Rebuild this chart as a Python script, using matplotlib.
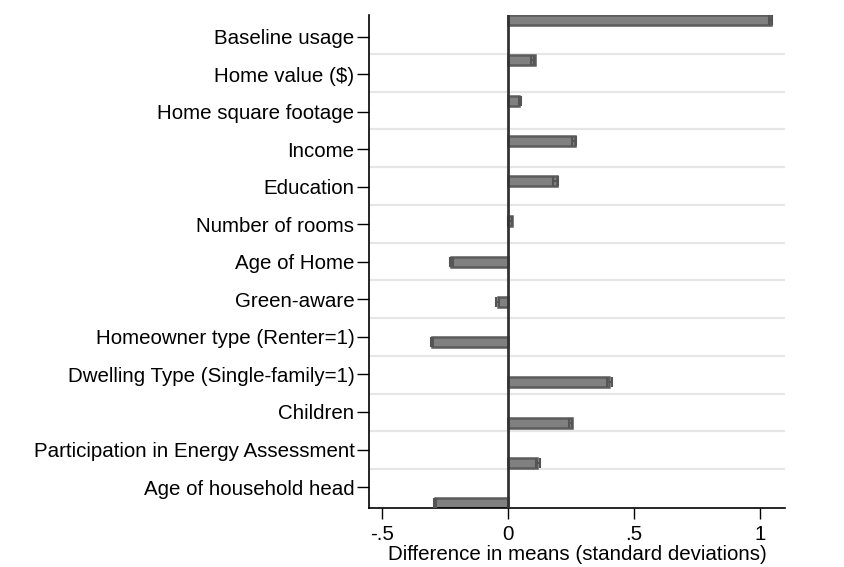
import numpy as np
import matplotlib
matplotlib.use("Agg")
import matplotlib.pyplot as plt

plt.rcParams['font.family'] = ['Liberation Sans', 'DejaVu Sans']

labels = ["Baseline usage", "Home value ($)", "Home square footage", "Income",
          "Education", "Number of rooms", "Age of Home", "Green-aware",
          "Homeowner type (Renter=1)", "Dwelling Type (Single-family=1)",
          "Children", "Participation in Energy Assessment", "Age of household head"]
diff = [1.045, 0.105, 0.043, 0.266, 0.195, 0.015, -0.225, -0.04,
        -0.30, 0.40, 0.255, 0.115, -0.29]
ci_lo = [1.035, 0.092, 0.045, 0.254, 0.178, 0.00, -0.229, -0.048,
         -0.306, 0.393, 0.241, 0.111, -0.296]
ci_hi = [1.048, 0.101, 0.052, 0.269, 0.197, 0.016, -0.218, -0.038,
         -0.297, 0.411, 0.254, 0.127, -0.287]

n = len(labels)
pos = np.arange(n)
# label ticks and grid lines sit on a slightly different spacing than the bars
tick_pos = 0.415 + 0.932 * np.arange(n)
grid_pos = 0.845 + 0.937 * np.arange(n - 1)

fig = plt.figure(figsize=(8.44, 5.67), dpi=100)
ax = fig.add_axes([0.4372, 0.104, 0.4929, 0.8695])

for g in grid_pos:
    ax.axhline(g, color='#e6e6e6', lw=1.6, zorder=0)

ax.barh(pos, diff, height=0.25, color='#808080', edgecolor='#5c5c5c',
        linewidth=1.8, zorder=2)
lo = np.array(ci_lo)
hi = np.array(ci_hi)
ax.errorbar((lo + hi) / 2, pos, xerr=(hi - lo) / 2, fmt='none',
            ecolor='#555555', elinewidth=1.5, capsize=3.6, capthick=1.5, zorder=3)

ax.axvline(0, color='#333333', lw=2, zorder=4)

ax.set_xlim(-0.552, 1.099)
ax.set_ylim(12.12, -0.124)
ax.set_yticks(tick_pos)
ax.set_yticklabels(labels)
ax.set_xticks([-0.5, 0, 0.5, 1])
ax.set_xticklabels(['-.5', '0', '.5', '1'])
ax.tick_params(axis='y', length=9, width=1, labelsize=14.8, pad=1.5)
ax.tick_params(axis='x', length=8, width=1, labelsize=14.8, pad=4)
ax.set_xlabel('Difference in means (standard deviations)', fontsize=14.8, labelpad=1)

for s in ['top', 'right']:
    ax.spines[s].set_visible(False)
ax.spines['left'].set_linewidth(1.2)
ax.spines['bottom'].set_linewidth(1.2)

fig.savefig('out.png', dpi=100)
